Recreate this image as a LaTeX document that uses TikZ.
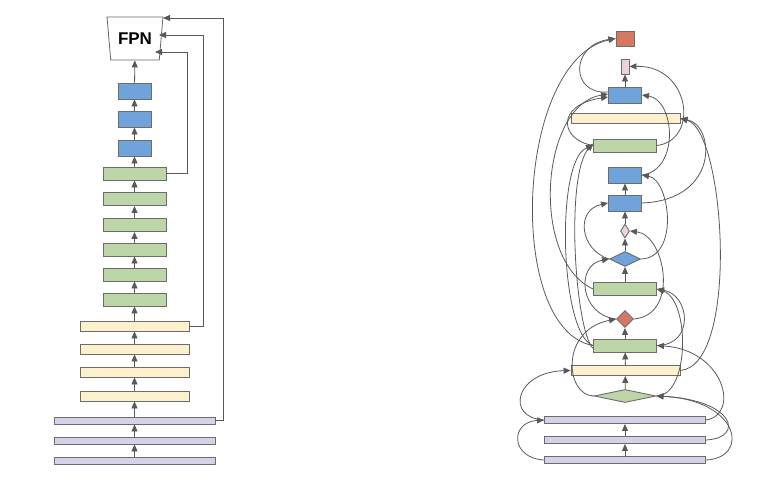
\documentclass[tikz,border=0pt]{standalone}
\usepackage{fontspec}
\setmainfont{Liberation Sans}
\usetikzlibrary{shapes.geometric,arrows.meta}
\definecolor{cblue}{HTML}{6FA3D9}
\definecolor{cgreen}{HTML}{BCD6A8}
\definecolor{cyel}{HTML}{FDF0CC}
\definecolor{cpur}{HTML}{D4D2E8}
\definecolor{cred}{HTML}{D47862}
\definecolor{cpink}{HTML}{EAD3DF}
\definecolor{cline}{HTML}{595959}
\begin{document}
\begin{tikzpicture}[x=1pt,y=-1pt,
  box/.style={draw=gray!85!black,line width=0.9pt,inner sep=0pt,minimum width=#1},
  bl/.style={box=33pt,fill=cblue,minimum height=16pt},
  gr/.style={box=63pt,fill=cgreen,minimum height=13pt},
  ye/.style={box=109pt,fill=cyel,minimum height=10pt},
  pu/.style={box=161pt,fill=cpur,minimum height=7pt},
  dia/.style={diamond,draw=gray!85!black,line width=0.9pt,inner sep=0pt,aspect=#1},
  ar/.style={draw=cline,line width=0.8pt,-{Triangle[length=7pt,width=6pt]}},
  cv/.style={ar}]
\useasboundingbox (0,0) rectangle (768,481);
% ---------- left
\node[trapezium,shape border rotate=180,trapezium stretches=true,draw=gray!80!black,line width=0.8pt,
  minimum width=56pt,minimum height=43pt,trapezium angle=77.5,inner sep=0pt,font=\bfseries\fontsize{17}{17}\selectfont] (fpn) at (135,38.5) {FPN};
\node[bl] (lb1) at (134.5,91) {};
\node[bl] (lb2) at (134.5,119) {};
\node[bl] (lb3) at (134.5,148) {};
\foreach \i/\y in {1/173.5,2/199,3/225,4/249.5,5/274.5,6/299.5}{\node[gr] (lg\i) at (134.5,\y) {};}
\foreach \i/\y in {1/326,2/349,3/372,4/396}{\node[ye] (ly\i) at (134.5,\y) {};}
\foreach \i/\y in {1/420.5,2/440.5,3/460.5}{\node[pu] (lp\i) at (134.5,\y) {};}
\draw[ar] (lb1) -- (fpn);
\draw[ar] (lb2) -- (lb1);
\draw[ar] (lb3) -- (lb2);
\draw[ar] (lg1) -- (lb3);
\foreach \a/\b in {lg2/lg1,lg3/lg2,lg4/lg3,lg5/lg4,lg6/lg5,ly1/lg6,ly2/ly1,ly3/ly2,ly4/ly3,lp1/ly4,lp2/lp1,lp3/lp2}{\draw[ar] (\a) -- (\b);}
\coordinate (f1) at (155,52);
\coordinate (f2) at (159,35);
\coordinate (f3) at (163,18);
\draw[ar] (lg1.east) -| (187,52) -- (f1);
\draw[ar] (ly1.east) -| (203,35) -- (f2);
\draw[ar] (lp1.east) -| (223,18) -- (f3);
% ---------- right
\node[box=18pt,minimum height=15pt,fill=cred] (rsq) at (625,38.5) {};
\node[box=8pt,minimum height=15pt,fill=cpink] (prt) at (625,66.5) {};
\node[bl] (b1) at (625,95) {};
\node[ye] (y1) at (625.5,118.5) {};
\node[gr] (g1) at (625,145.5) {};
\node[bl] (b2) at (625,175) {};
\node[bl] (b3) at (625,203) {};
\node[dia=0.66,fill=cpink,minimum width=9pt,minimum height=14pt] (pd) at (625,231) {};
\node[dia=2.1,fill=cblue,minimum width=31pt,minimum height=15pt] (bd) at (625,259) {};
\node[gr] (g2) at (625,289) {};
\node[dia=1,fill=cred,minimum width=17pt,minimum height=17pt] (rd) at (625,319) {};
\node[gr] (g3) at (625,345.5) {};
\node[ye] (y2) at (625.5,370.5) {};
\node[dia=5,fill=cgreen,minimum width=62pt,minimum height=13pt] (gd) at (625,396) {};
\node[pu] (p1) at (625,420) {};
\node[pu] (p2) at (625,440) {};
\node[pu] (p3) at (625,460) {};
% vertical arrows
\foreach \a/\b in {b1/prt,b3/b2,pd/b3,bd/pd,g2/bd,g3/rd,y2/g3,gd/y2,p2/p1,p3/p2}{\draw[ar] (\a) -- (\b);}
% left-side curves
\draw[cv] (g3.west) .. controls (505,330) and (515,60) .. (rsq.west);
\draw[cv] ([yshift=3pt]b1.west) .. controls (570,95) and (570,45) .. (rsq.west);
\draw[cv] (g2.west) .. controls (530,260) and (540,105) .. ([yshift=1pt]b1.west);
\draw[cv] (g1.west) .. controls (560,140) and (555,105) .. ([yshift=-2pt]b1.west);
\draw[cv] (g3.west) .. controls (560,335) and (555,160) .. (g1.west);
\draw[cv] ([yshift=-3pt]g3.west) .. controls (575,330) and (565,175) .. ([yshift=2pt]g1.west);
\draw[cv] (bd.west) .. controls (580,250) and (575,210) .. (b3.west);
\draw[cv] (rd.west) .. controls (580,315) and (575,265) .. (bd.west);
\draw[cv] (gd.west) .. controls (565,395) and (560,330) .. (rd.west);
\draw[cv] (p1.west) .. controls (505,418) and (515,372) .. (y2.west);
\draw[cv] (p3.west) .. controls (510,458) and (510,422) .. (p1.west);
% right-side curves
\draw[cv] (g1.east) .. controls (700,140) and (690,65) .. (prt.east);
\draw[cv] (b2.east) .. controls (680,170) and (675,100) .. (b1.east);
\draw[cv] (b3.east) .. controls (720,200) and (715,125) .. (y1.east);
\draw[cv] (bd.east) .. controls (680,258) and (670,180) .. (b2.east);
\draw[cv] (rd.east) .. controls (680,315) and (665,235) .. (pd.east);
\draw[cv] (g3.east) .. controls (695,345) and (690,295) .. (g2.east);
\draw[cv] (gd.east) .. controls (690,396) and (690,300) .. (g2.east);
\draw[cv] (y2.east) .. controls (740,365) and (725,130) .. (y1.east);
\draw[cv] (p1.east) .. controls (740,415) and (725,350) .. (g3.east);
\draw[cv] (p2.east) .. controls (745,438) and (735,400) .. (gd.east);
\draw[cv] (p3.east) .. controls (750,458) and (740,400) .. (gd.east);
\end{tikzpicture}
\end{document}
